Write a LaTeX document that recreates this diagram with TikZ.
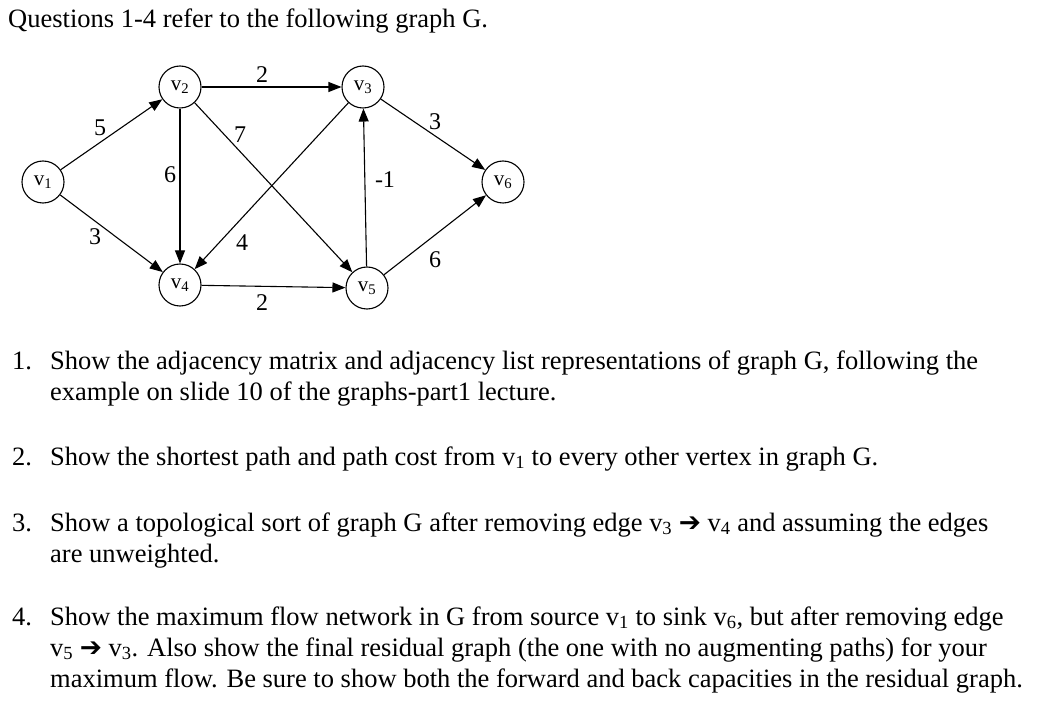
\documentclass[tikz,border=0pt]{standalone}
\usepackage{fontspec}
\setmainfont{Liberation Serif}
\newfontfamily\djvfont{DejaVu Sans}
\usetikzlibrary{arrows.meta}
\newcommand{\vs}[1]{v\textsubscript{#1}}
\newcommand{\myar}{{\djvfont ➔}}
\begin{document}
\begin{tikzpicture}[x=1pt,y=-1pt,
  vtx/.style={draw,circle,minimum size=42pt,inner sep=0pt,line width=1.1pt,font=\fontsize{21}{21}\selectfont},
  edg/.style={-{Triangle[length=13pt,width=10pt]},line width=1.1pt},
  lbl/.style={font=\fontsize{24}{24}\selectfont,inner sep=0pt},
  txt/.style={anchor=base west,inner sep=0pt,font=\fontsize{26.5}{26.5}\selectfont}]
\useasboundingbox (0,0) rectangle (1053,703);
\node[vtx] (v1) at (43,182) {\vs{1}};
\node[vtx] (v2) at (180,87) {\vs{2}};
\node[vtx] (v3) at (363,87) {\vs{3}};
\node[vtx] (v4) at (180,285) {\vs{4}};
\node[vtx] (v5) at (367,288) {\vs{5}};
\node[vtx] (v6) at (503,182) {\vs{6}};
\draw[edg] (v1) -- (v2);
\draw[edg] (v1) -- (v4);
\draw[edg] (v2) -- (v3);
\draw[edg] (v2) -- (v4);
\draw[edg] (v2) -- (v5);
\draw[edg] (v3) -- (v4);
\draw[edg] (v3) -- (v6);
\draw[edg] (v5) -- (v3);
\draw[edg] (v4) -- (v5);
\draw[edg] (v5) -- (v6);
\node[lbl] (l1) at (262,75) {2};
\node[lbl] (l2) at (100,128) {5};
\node[lbl] (l3) at (240,135) {7};
\node[lbl] (l4) at (170,175) {6};
\node[lbl] (l5) at (435,122) {3};
\node[lbl] (l6) at (385,180) {-1};
\node[lbl] (l7) at (95,237) {3};
\node[lbl] (l8) at (242,243) {4};
\node[lbl] (l9) at (435,260) {6};
\node[lbl] (l10) at (262,303) {2};
\node[txt] (t0) at (8,28) {Questions 1-4 refer to the following graph G.};
\node[txt] (n1) at (12,370) {1.};
\node[txt] (a1) at (50,370) {Show the adjacency matrix and adjacency list representations of graph G, following the};
\node[txt] (a2) at (50,401) {example on slide 10 of the graphs-part1 lecture.};
\node[txt] (n2) at (12,465) {2.};
\node[txt] (b1) at (50,465) {Show the shortest path and path cost from \vs{1} to every other vertex in graph G.};
\node[txt] (n3) at (12,531) {3.};
\node[txt] (c1) at (50,531) {Show a topological sort of graph G after removing edge \vs{3} \myar{} \vs{4} and assuming the edges};
\node[txt] (c2) at (50,562) {are unweighted.};
\node[txt] (n4) at (12,625) {4.};
\node[txt] (d1) at (50,625) {Show the maximum flow network in G from source \vs{1} to sink \vs{6}, but after removing edge};
\node[txt] (d2) at (50,656) {\vs{5} \myar{} \vs{3}. Also show the final residual graph (the one with no augmenting paths) for your};
\node[txt] (d3) at (50,687) {maximum flow. Be sure to show both the forward and back capacities in the residual graph.};
\end{tikzpicture}
\end{document}
